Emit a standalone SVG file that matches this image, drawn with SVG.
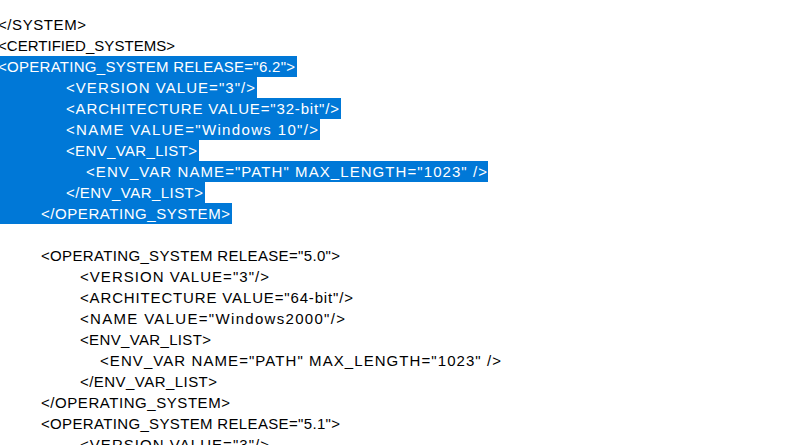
<svg xmlns="http://www.w3.org/2000/svg" width="796" height="445" viewBox="0 0 796 445">
<style>
text{font-family:"Liberation Sans",Arial,sans-serif;font-size:15px;fill:#000}
.s{fill:#fff}
.h{fill:#0078d7}
</style>
<rect width="796" height="445" fill="#fff"/>
<g id="selection">
<rect class="h" x="0" y="56" width="297" height="21"/>
<rect class="h" x="0" y="77" width="257" height="21"/>
<rect class="h" x="0" y="98" width="341" height="21"/>
<rect class="h" x="0" y="119" width="320" height="21"/>
<rect class="h" x="0" y="140" width="199" height="21"/>
<rect class="h" x="0" y="161" width="488" height="21"/>
<rect class="h" x="0" y="182" width="205" height="21"/>
<rect class="h" x="0" y="203" width="232" height="21"/>
</g>
<g id="text">
<text x="-2" y="30" textLength="88">&lt;/SYSTEM&gt;</text>
<text x="-2" y="51" textLength="177">&lt;CERTIFIED_SYSTEMS&gt;</text>
<text class="s" x="-2" y="72" textLength="297">&lt;OPERATING_SYSTEM RELEASE="6.2"&gt;</text>
<text class="s" x="66" y="93" textLength="189">&lt;VERSION VALUE="3"/&gt;</text>
<text class="s" x="66" y="114" textLength="273">&lt;ARCHITECTURE VALUE="32-bit"/&gt;</text>
<text class="s" x="66" y="135" textLength="252">&lt;NAME VALUE="Windows 10"/&gt;</text>
<text class="s" x="66" y="156" textLength="131">&lt;ENV_VAR_LIST&gt;</text>
<text class="s" x="86" y="177" textLength="401">&lt;ENV_VAR NAME="PATH" MAX_LENGTH="1023" /&gt;</text>
<text class="s" x="66" y="198" textLength="137">&lt;/ENV_VAR_LIST&gt;</text>
<text class="s" x="41" y="219" textLength="189">&lt;/OPERATING_SYSTEM&gt;</text>
<text x="41" y="261" textLength="299">&lt;OPERATING_SYSTEM RELEASE="5.0"&gt;</text>
<text x="80" y="282" textLength="189">&lt;VERSION VALUE="3"/&gt;</text>
<text x="80" y="303" textLength="273">&lt;ARCHITECTURE VALUE="64-bit"/&gt;</text>
<text x="80" y="324" textLength="265">&lt;NAME VALUE="Windows2000"/&gt;</text>
<text x="80" y="345" textLength="131">&lt;ENV_VAR_LIST&gt;</text>
<text x="100" y="366" textLength="401">&lt;ENV_VAR NAME="PATH" MAX_LENGTH="1023" /&gt;</text>
<text x="80" y="387" textLength="137">&lt;/ENV_VAR_LIST&gt;</text>
<text x="41" y="408" textLength="189">&lt;/OPERATING_SYSTEM&gt;</text>
<text x="41" y="429" textLength="299">&lt;OPERATING_SYSTEM RELEASE="5.1"&gt;</text>
<text x="80" y="450" textLength="189">&lt;VERSION VALUE="3"/&gt;</text>
</g>
</svg>
